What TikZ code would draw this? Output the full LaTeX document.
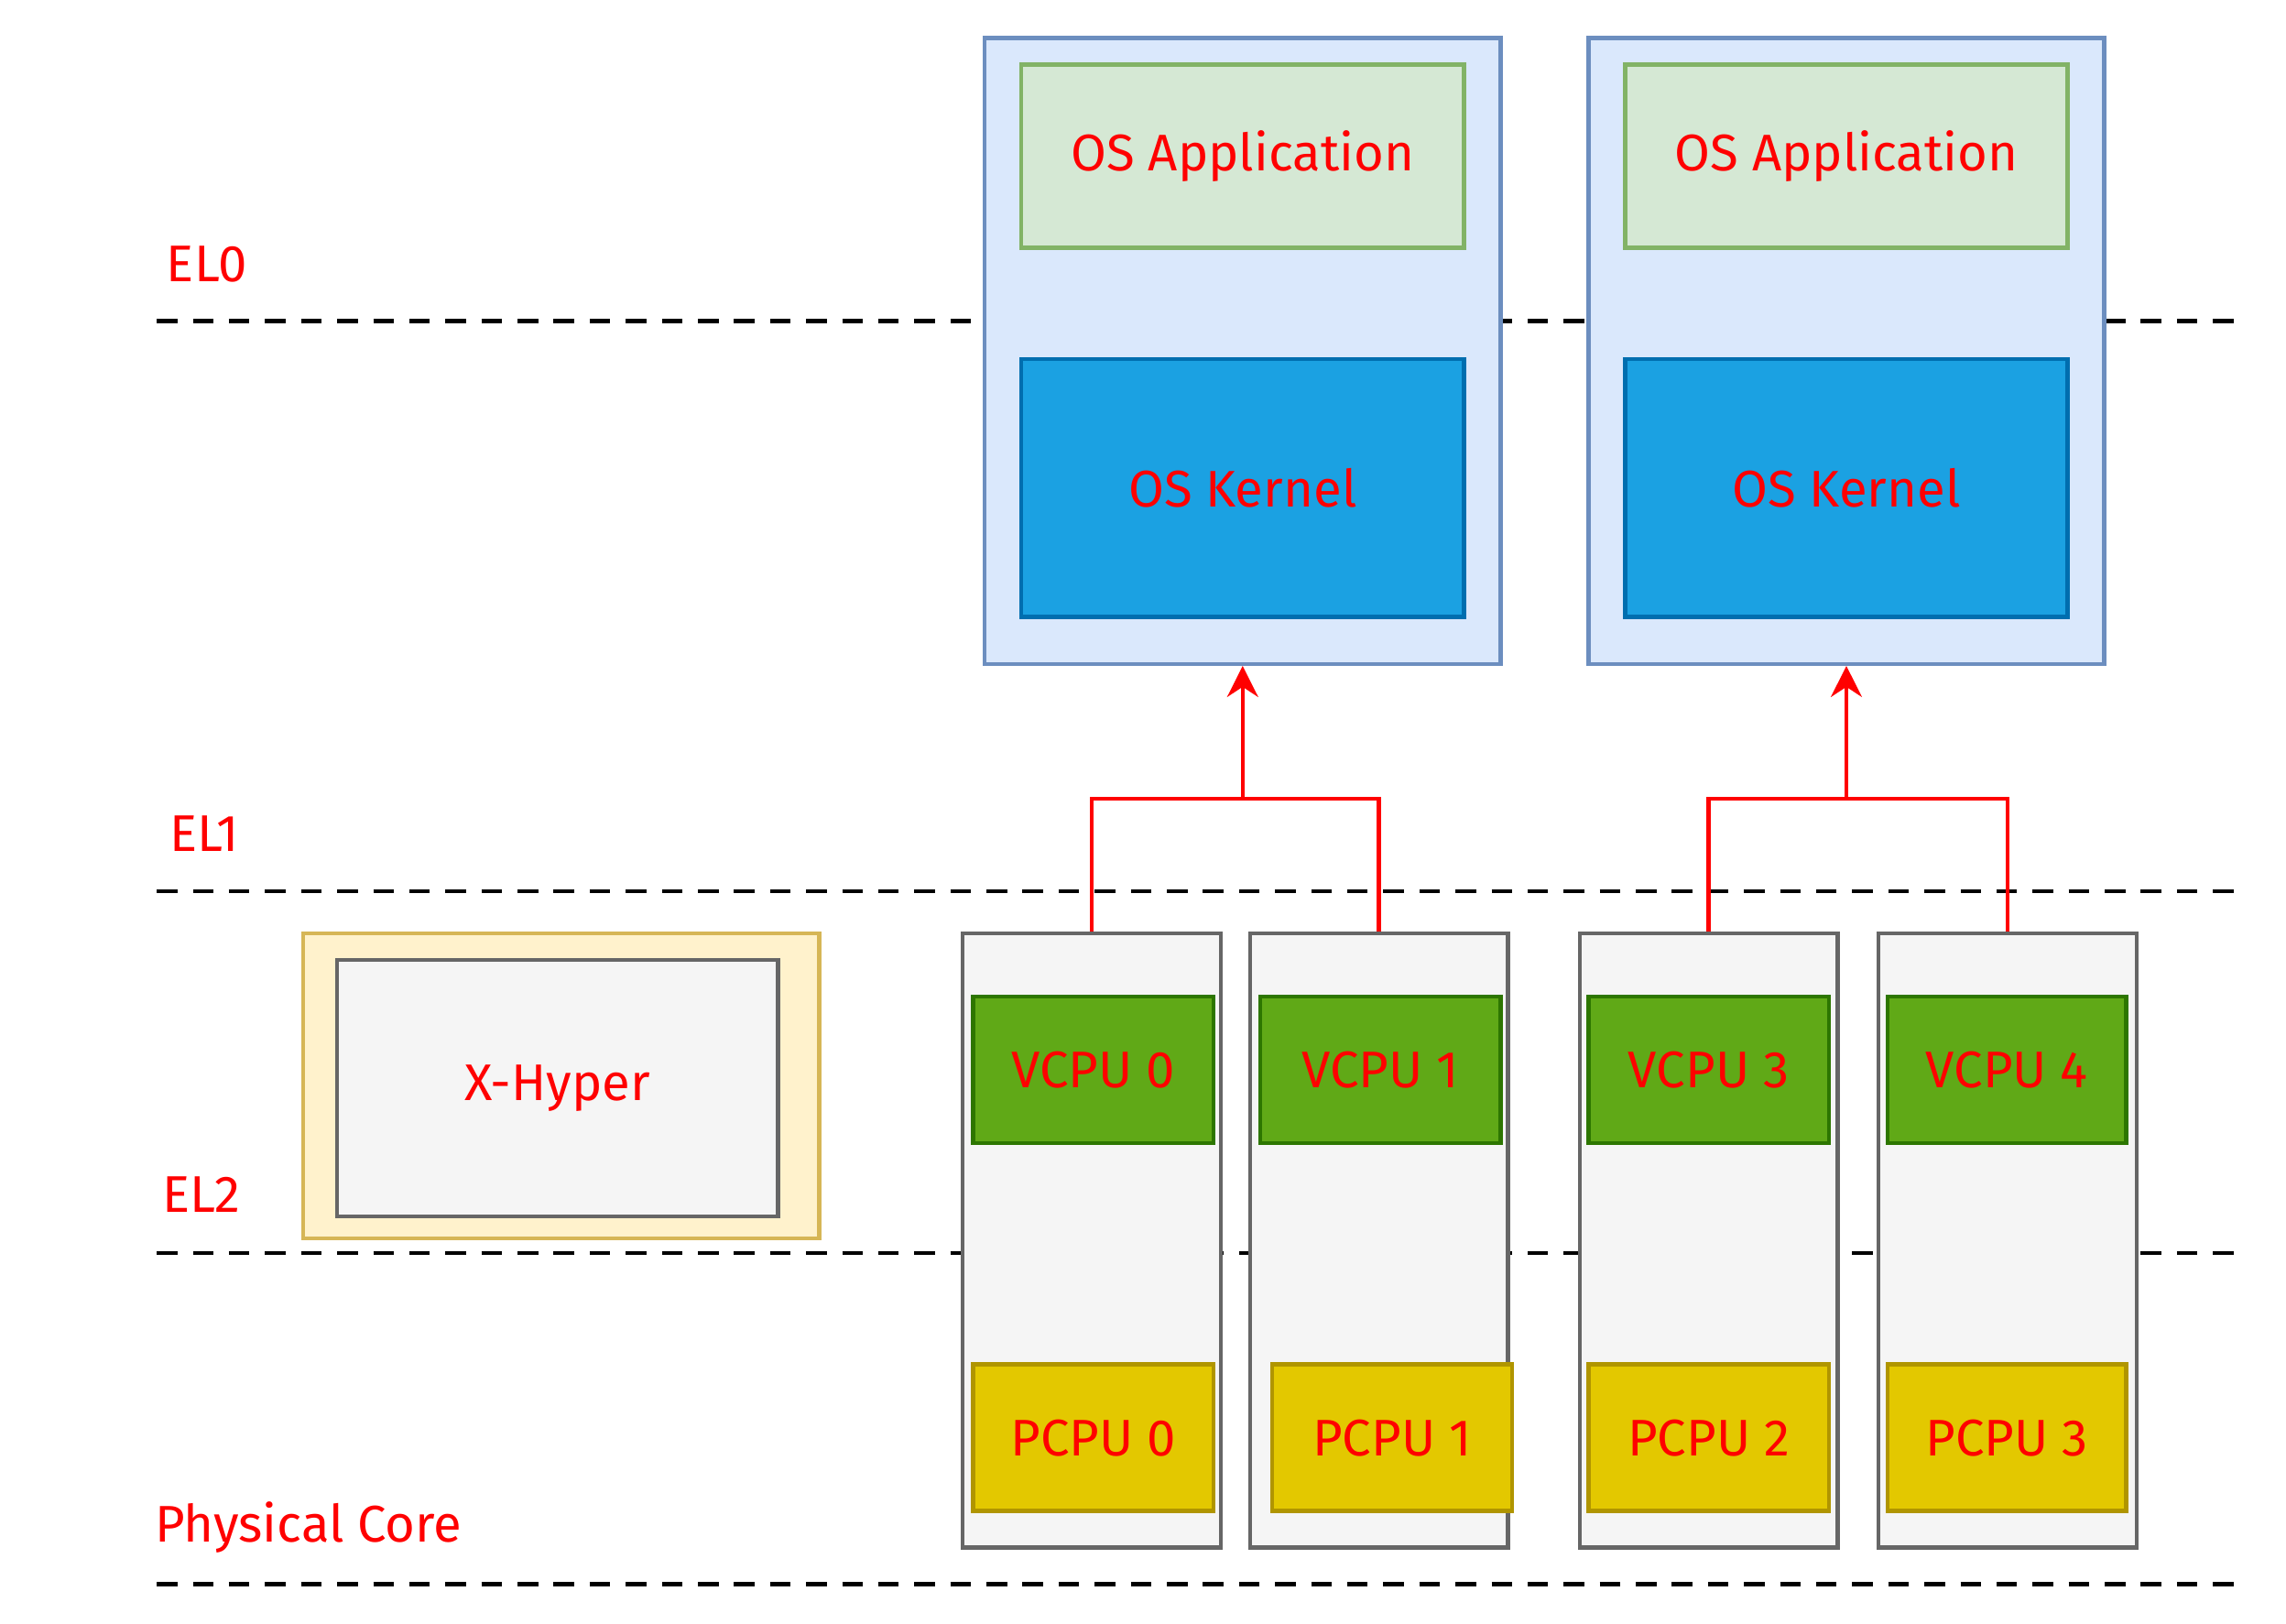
\documentclass[tikz,border=0pt]{standalone}
\usepackage{fontspec}
\setmainfont{Fira Sans}
\usetikzlibrary{arrows.meta}
\begin{document}
\begin{tikzpicture}[x=0.01cm,y=-0.01cm,
  box/.style={draw,line width=0.8pt,inner sep=0pt,font=\fontsize{10}{12}\selectfont,text=red},
  vm/.style={box,fill=vmf,draw=vmd},
  app/.style={box,fill=appf,draw=appd},
  kern/.style={box,fill=kf,draw=kd},
  grey/.style={box,fill=gf,draw=gd},
  hyp/.style={box,fill=hf,draw=hd},
  vcpu/.style={box,fill=vf,draw=vd},
  pcpu/.style={box,fill=pf,draw=pd},
  lvl/.style={text=red,font=\fontsize{10}{12}\selectfont,inner sep=0pt},
  sep/.style={dashed,line width=0.8pt,dash pattern=on 4pt off 3pt},
  link/.style={red,line width=0.8pt},
  up/.style={link,-{Stealth[length=6pt,width=6pt]}}]
\definecolor{vmf}{HTML}{DAE8FC}\definecolor{vmd}{HTML}{6C8EBF}
\definecolor{appf}{HTML}{D5E8D4}\definecolor{appd}{HTML}{82B366}
\definecolor{kf}{HTML}{1BA1E2}\definecolor{kd}{HTML}{006EAF}
\definecolor{gf}{HTML}{F5F5F5}\definecolor{gd}{HTML}{666666}
\definecolor{hf}{HTML}{FFF2CC}\definecolor{hd}{HTML}{D6B656}
\definecolor{vf}{HTML}{60A917}\definecolor{vd}{HTML}{2D7600}
\definecolor{pf}{HTML}{E3C800}\definecolor{pd}{HTML}{B09500}
\newcommand{\bx}[7]{\node[#6,minimum width={(#4-#2)*0.01cm},minimum height={(#5-#3)*0.01cm}] (#1) at ({(#2+#4)/2},{(#3+#5)/2}) {#7};}
\useasboundingbox (0,0) rectangle (1560,1107.5);
% levels
\coordinate (l0a) at (107,219); \coordinate (l0b) at (1530,219);
\coordinate (l1a) at (107,608); \coordinate (l1b) at (1530,608);
\coordinate (l2a) at (107,855); \coordinate (l2b) at (1530,855);
\coordinate (l3a) at (107,1081); \coordinate (l3b) at (1530,1081);
\draw[sep] (l0a) -- (l0b);
\draw[sep] (l1a) -- (l1b);
\draw[sep] (l2a) -- (l2b);
\draw[sep] (l3a) -- (l3b);
\node[lvl,anchor=west] (el0) at (113,180) {EL0};
\node[lvl,anchor=west] (el1) at (115,569) {EL1};
\node[lvl,anchor=west] (el2) at (110,815) {EL2};
\node[lvl,anchor=west] (pc) at (105,1042) {Physical Core};
% guests
\bx{vm1}{672}{26}{1024}{453}{vm}{}
\bx{app1}{697}{44}{999}{169}{app}{OS Application}
\bx{k1}{697}{245}{999}{421}{kern}{OS Kernel}
\bx{vm2}{1084}{26}{1436}{453}{vm}{}
\bx{app2}{1109}{44}{1411}{169}{app}{OS Application}
\bx{k2}{1109}{245}{1411}{421}{kern}{OS Kernel}
% hypervisor
\bx{hyo}{207}{637}{559}{845}{hyp}{}
\bx{hyi}{230}{655}{531}{830}{grey}{X-Hyper}
% cores
\bx{c0}{657}{637}{833}{1056}{grey}{}
\bx{c1}{853}{637}{1029}{1056}{grey}{}
\bx{c2}{1078}{637}{1254}{1056}{grey}{}
\bx{c3}{1282}{637}{1458}{1056}{grey}{}
\bx{v0}{664}{680}{828}{780}{vcpu}{VCPU 0}
\bx{v1}{860}{680}{1024}{780}{vcpu}{VCPU 1}
\bx{v3}{1084}{680}{1248}{780}{vcpu}{VCPU 3}
\bx{v4}{1288}{680}{1451}{780}{vcpu}{VCPU 4}
\bx{p0}{664}{931}{828}{1031}{pcpu}{PCPU 0}
\bx{p1}{868}{931}{1032}{1031}{pcpu}{PCPU 1}
\bx{p2}{1084}{931}{1248}{1031}{pcpu}{PCPU 2}
\bx{p3}{1288}{931}{1451}{1031}{pcpu}{PCPU 3}
% links
\coordinate (j1) at (vm1.south |- 0,545);
\coordinate (j2) at (vm2.south |- 0,545);
\draw[link] (c0.north) |- (j1) -| (c1.north);
\draw[up] (j1) -- (vm1.south);
\draw[link] (c2.north) |- (j2) -| (c3.north);
\draw[up] (j2) -- (vm2.south);
\end{tikzpicture}
\end{document}
